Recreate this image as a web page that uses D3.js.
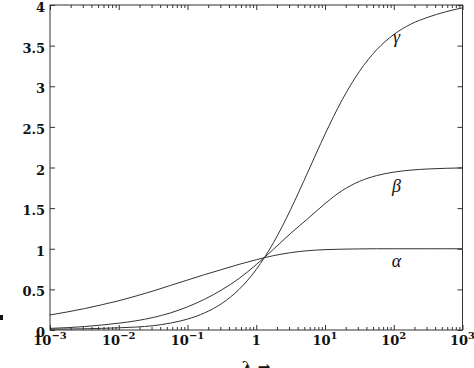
<!DOCTYPE html>
<html>
<head>
<meta charset="utf-8">
<script src="https://cdn.jsdelivr.net/npm/d3@7"></script>
<style>
body { margin: 0; background: #fff; }
</style>
</head>
<body>
<script>
// sample points: log10(lambda) at quarter decades
var lambdaExp = [-3, -2.75, -2.5, -2.25, -2, -1.75, -1.5, -1.25, -1, -0.75, -0.5, -0.25, 0,
                 0.25, 0.5, 0.75, 1, 1.25, 1.5, 1.75, 2, 2.25, 2.5, 2.75, 3];
var alpha = [0.185, 0.222, 0.263, 0.31, 0.36, 0.418, 0.48, 0.548, 0.615, 0.682, 0.745, 0.808, 0.865,
             0.915, 0.952, 0.976, 0.989, 0.995, 0.998, 1.0, 1.0, 1.0, 1.0, 1.0, 1.0];
var beta  = [0.02, 0.029, 0.042, 0.061, 0.084, 0.113, 0.154, 0.21, 0.285, 0.379, 0.495, 0.634, 0.805,
             0.993, 1.189, 1.37, 1.555, 1.716, 1.829, 1.9, 1.943, 1.968, 1.982, 1.99, 1.995];
var gamma = [0.01, 0.012, 0.015, 0.02, 0.027, 0.036, 0.053, 0.085, 0.134, 0.211, 0.327, 0.5, 0.745,
             1.074, 1.483, 1.943, 2.409, 2.833, 3.182, 3.448, 3.636, 3.765, 3.85, 3.915, 3.965];

var seriesNames = ['\u03B1', '\u03B2', '\u03B3'];
var labelAt = [[110, 0.775], [110, 1.7], [110, 3.53]]; // [lambda, value] of label baselines

var xExponents = [-3, -2, -1, 0, 1, 2, 3];
var yTicks = [0, 0.5, 1, 1.5, 2, 2.5, 3, 3.5, 4];

var w = 474,
    h = 368;
// note: "top" is taken by window.top, so prefix these
var pLeft = 50, pRight = 462.5, pTop = 5, pBottom = 330;
var ink = '#333';

var svg = d3.select('body')
  .append('svg')
  .attr('width', w)
  .attr('height', h);

var x = d3.scaleLog()
  .domain([1e-3, 1e3])
  .range([pLeft, pRight]);

var y = d3.scaleLinear()
  .domain([0, 4])
  .range([pBottom, pTop]);

// minor ticks 2..9 in every decade
var minor = [];
xExponents.slice(0, -1).forEach(function(e) {
    for (var k = 2; k <= 9; k++) minor.push(k * Math.pow(10, e));
});
var major = xExponents.map(function(e) { return Math.pow(10, e); });

function styleAxis(g) {
    g.select('.domain').remove();
    g.selectAll('line').attr('stroke', ink).attr('stroke-width', 1);
}

// x axes, ticks pointing inward
svg.append('g')
  .attr('transform', 'translate(0,' + pBottom + ')')
  .call(d3.axisBottom(x).tickValues(major).tickSize(-5).tickFormat(''))
  .call(styleAxis);
svg.append('g')
  .attr('transform', 'translate(0,' + pBottom + ')')
  .call(d3.axisBottom(x).tickValues(minor).tickSize(-3).tickFormat(''))
  .call(styleAxis);
svg.append('g')
  .attr('transform', 'translate(0,' + pTop + ')')
  .call(d3.axisTop(x).tickValues(major).tickSize(-5).tickFormat(''))
  .call(styleAxis);
svg.append('g')
  .attr('transform', 'translate(0,' + pTop + ')')
  .call(d3.axisTop(x).tickValues(minor).tickSize(-3).tickFormat(''))
  .call(styleAxis);

// y axes
svg.append('g')
  .attr('transform', 'translate(' + pLeft + ',0)')
  .call(d3.axisLeft(y).tickValues(yTicks).tickSize(-5).tickPadding(5).tickFormat(d3.format('')))
  .call(styleAxis)
  .call(function(g) {
      g.selectAll('text')
        .attr('dy', '0.5em')
        .attr('fill', '#111')
        .style('font-family', 'DejaVu Serif')
        .style('font-weight', 'bold')
        .style('font-size', '13px');
  });
svg.append('g')
  .attr('transform', 'translate(' + pRight + ',0)')
  .call(d3.axisRight(y).tickValues(yTicks).tickSize(-5).tickFormat(''))
  .call(styleAxis);

// frame
svg.append('rect')
  .attr('x', pLeft)
  .attr('y', pTop)
  .attr('width', pRight - pLeft)
  .attr('height', pBottom - pTop)
  .attr('fill', 'none')
  .attr('stroke', ink)
  .attr('stroke-width', 1);

// x tick labels with superscript exponents
var xl = svg.append('g')
  .style('font-family', 'DejaVu Serif')
  .style('font-weight', 'bold')
  .attr('fill', '#111');
xExponents.forEach(function(e) {
    var t = xl.append('text')
      .attr('x', x(Math.pow(10, e)))
      .attr('y', 345)
      .attr('text-anchor', 'middle')
      .style('font-size', '13px');
    if (e === 0) {
        t.text('1');
    } else {
        t.append('tspan').text('10');
        t.append('tspan')
          .attr('dy', -6)
          .style('font-size', '10px')
          .text(String(e).replace('-', '\u2212'));
    }
});

svg.append('text')
  .attr('x', x(1))
  .attr('y', 372)
  .attr('text-anchor', 'middle')
  .attr('fill', '#111')
  .style('font-family', 'DejaVu Serif')
  .style('font-weight', 'bold')
  .style('font-size', '15px')
  .text('\u03BB \u2192');

// remnant of the clipped y label
svg.append('rect')
  .attr('x', 0).attr('y', 315)
  .attr('width', 3).attr('height', 5)
  .attr('fill', '#111');

// curves
var line = d3.line()
  .x(function(d) { return x(d[0]); })
  .y(function(d) { return y(d[1]); })
  .curve(d3.curveMonotoneX);

[alpha, beta, gamma].forEach(function(vals, i) {
    var pts = lambdaExp.map(function(e, j) { return [Math.pow(10, e), vals[j]]; });
    svg.append('path')
      .attr('d', line(pts))
      .attr('fill', 'none')
      .attr('stroke', ink)
      .attr('stroke-width', 1);
    svg.append('text')
      .attr('x', x(labelAt[i][0]))
      .attr('y', y(labelAt[i][1]))
      .attr('text-anchor', 'middle')
      .attr('fill', '#111')
      .style('font-family', 'Liberation Serif')
      .style('font-style', 'italic')
      .style('font-size', '18px')
      .text(seriesNames[i]);
});
</script>
</body>
</html>
